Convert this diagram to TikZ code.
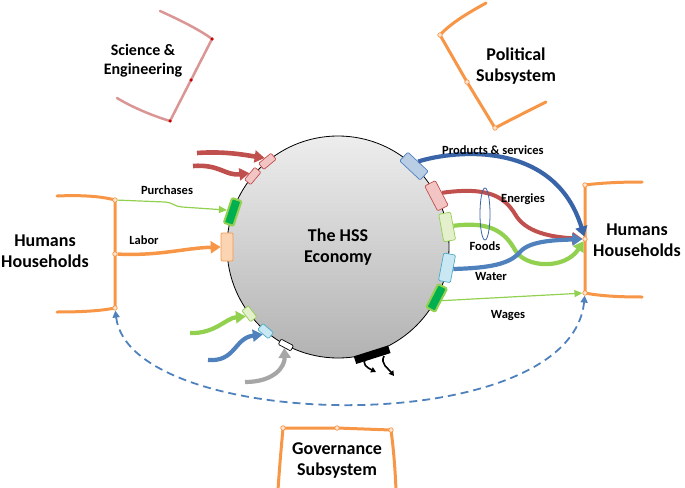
\documentclass[tikz,border=0pt]{standalone}
\usepackage{fontspec}
\setmainfont{Carlito}
\usetikzlibrary{arrows.meta,calc,shapes.geometric}
\definecolor{cred}{HTML}{C0504D}
\definecolor{credfill}{HTML}{F2C4C3}
\definecolor{cblue}{HTML}{4F81BD}
\definecolor{cdblue}{HTML}{3A64A8}
\definecolor{cbluefill}{HTML}{B9CDE5}
\definecolor{cgreen}{HTML}{92D050}
\definecolor{cgreenfill}{HTML}{E4EFCB}
\definecolor{cdgreen}{HTML}{00B050}
\definecolor{ccyan}{HTML}{4BACC6}
\definecolor{ccyanfill}{HTML}{C9E8F3}
\definecolor{corange}{HTML}{F79646}
\definecolor{corangefill}{HTML}{FBD4B4}
\definecolor{cpink}{HTML}{D99694}
\definecolor{cgray}{HTML}{A6A6A6}
\begin{document}
\begin{tikzpicture}[x=1pt,y=-1pt,
  lbl/.style={font=\bfseries\fontsize{12.5}{14}\selectfont, inner sep=1pt},
  big/.style={font=\bfseries\fontsize{18}{21}\selectfont, align=center},
  mid/.style={font=\bfseries\fontsize{16}{19}\selectfont, align=center},
  obar/.style={draw=corange, line width=3pt, line join=round, line cap=round},
  joint/.style={circle, draw=corange, fill=corange!25, line width=0.7pt, minimum size=4.5pt, inner sep=0pt},
  sdot/.style={circle, fill=red!80!black, minimum size=3.5pt, inner sep=0pt},
  pbox/.style={rectangle, rounded corners=1.2pt, inner sep=0pt, line width=0.7pt, minimum width=12pt, minimum height=28pt},
  sbox/.style={rectangle, rounded corners=1pt, inner sep=0pt, line width=0.7pt, minimum width=8pt, minimum height=16pt},
  flow/.style={line width=4.2pt, -{Triangle[length=10pt,width=12pt]}},
  slim/.style={line width=1.2pt, -{Triangle[length=8pt,width=7pt]}},
]
\path[use as bounding box] (0,0) rectangle (685,487);

% economy circle
\node[circle, draw=black, line width=0.8pt, minimum size=222pt, top color=black!7, bottom color=black!30, big] (eco) at (338,247) {The HSS\\Economy};

% science & engineering
\draw[draw=cpink, line width=2.5pt, line join=round, line cap=round] (160,11) .. controls (180,20) and (200,30) .. (212,39) -- (191,80) -- (170,121) .. controls (150,115) and (130,106) .. (117,98);
\node[sdot] (s1) at (212,39) {};
\node[sdot] (s2) at (191,80) {};
\node[sdot] (s3) at (170,121) {};
\node[mid] (sci) at (143,61) {Science \&\\Engineering};

% political
\draw[obar] (486,3) .. controls (470,12) and (452,22) .. (440,35) -- (467,82) -- (495,128) .. controls (510,120) and (530,110) .. (546,102);
\node[joint] (p1) at (440,35) {};
\node[joint] (p2) at (467,82) {};
\node[joint] (p3) at (495,128) {};
\node[big] (pol) at (516,66) {Political\\Subsystem};

% governance
\draw[obar] (278,490) .. controls (280,460) and (282,440) .. (283,428) -- (337,428) -- (391,430) .. controls (393,445) and (395,465) .. (396,490);
\node[joint] (g1) at (283,428) {};
\node[joint] (g2) at (337,428) {};
\node[joint] (g3) at (391,430) {};
\node[big] (gov) at (337,461) {Governance\\Subsystem};

% households brackets
\draw[obar] (57,196) .. controls (80,195) and (100,196) .. (115,200) -- (115,308) .. controls (100,311) and (80,312) .. (57,312);
\draw[obar] (642,182) .. controls (620,182) and (600,183) .. (585,185) -- (585,293) .. controls (600,296) and (620,297) .. (642,297);
\node[big] (hhL) at (45,251) {Humans\\Households};
\node[big] (hhR) at (637,240) {Humans\\Households};

% boxes on the circle
\node[sbox, fill=credfill, draw=cred, rotate=129.5] (rT1) at ($(eco.center)+(129.5:111pt)$) {};
\node[sbox, fill=credfill, draw=cred, rotate=140.2] (rT2) at ($(eco.center)+(140.2:111pt)$) {};
\node[pbox, fill=cdgreen, draw=cgreen, line width=2pt, minimum width=10pt, minimum height=26pt, rotate=161.6] (gL) at ($(eco.center)+(161.6:111pt)$) {};
\node[pbox, fill=corangefill, draw=corange, rotate=180] (oL) at ($(eco.center)+(180:111pt)$) {};
\node[pbox, fill=cbluefill, draw=cblue, rotate=46.8] (bR) at ($(eco.center)+(46.8:111pt)$) {};
\node[pbox, fill=credfill, draw=cred, rotate=27.5] (rR) at ($(eco.center)+(27.5:111pt)$) {};
\node[pbox, fill=cgreenfill, draw=cgreen, rotate=10.4] (fR) at ($(eco.center)+(10.4:111pt)$) {};
\node[pbox, fill=ccyanfill, draw=ccyan, rotate=-10.8] (wR) at ($(eco.center)+(-10.8:111pt)$) {};
\node[pbox, fill=cdgreen, draw=cgreen, line width=2pt, minimum width=10pt, minimum height=26pt, rotate=-27.3] (dgR) at ($(eco.center)+(-27.3:111pt)$) {};
\node[sbox, fill=cgreenfill, draw=cgreen, minimum height=14pt, rotate=217] (lgB) at ($(eco.center)+(217:111pt)$) {};
\node[sbox, fill=ccyanfill, draw=ccyan, minimum height=14pt, rotate=229.3] (wB) at ($(eco.center)+(229.3:111pt)$) {};
\node[sbox, fill=white, draw=black, minimum width=6pt, minimum height=14pt, rotate=242] (wtB) at ($(eco.center)+(242:111pt)$) {};
\node[rectangle, fill=black, rotate=-72.4, minimum width=8pt, minimum height=36pt, inner sep=0pt] (blk) at ($(eco.center)+(-72.4:113pt)$) {};

% outputs of the black device
\draw[line width=1.6pt, -{Triangle[length=5pt,width=5.5pt]}] (367,358) .. controls (360,364) and (368,368) .. (376,372);
\draw[line width=1.6pt, -{Triangle[length=5pt,width=5.5pt]}] (384,356) .. controls (380,364) and (388,368) .. (394,376);

% top-left red inputs
\coordinate (ra1) at (197,153);
\coordinate (ra2) at (193,166);
\draw[flow, cred, line width=4.6pt] (ra1) .. controls (225,151) and (245,155) .. (rT1.east);
\draw[flow, cred, line width=4.6pt] (ra2) .. controls (220,164) and (225,176) .. (rT2.east);

% bottom-left inputs
\coordinate (bl1) at (190,333);
\coordinate (bl2) at (208,360);
\coordinate (bl3) at (245,382);
\draw[flow, cgreen] (bl1) .. controls (215,334) and (226,318) .. (lgB.east);
\draw[flow, cblue] (bl2) .. controls (236,362) and (234,338) .. (wB.east);
\draw[flow, cgray] (bl3) .. controls (275,382) and (285,366) .. (wtB.east);

% left side flows
\node[joint] (LT) at (115,200) {};
\node[joint] (LM) at (115,254) {};
\node[joint] (LB) at (115,308) {};
\draw[slim, cgreen] (LT) -- (165,202) .. controls (172,202) and (175,207) .. (182,207) -- (gL.east);
\draw[flow, corange, line width=3.5pt] (LM) .. controls (160,256) and (185,248) .. (oL.east);
\node[lbl] (lpur) at (167,190) {Purchases};
\node[lbl] (llab) at (144,240) {Labor};

% right side flows
\node[joint] (RT) at (585,185) {};
\node[joint] (RM) at (585,239) {};
\node[joint] (RB) at (585,293) {};
\draw[flow, cdblue] (bR.east) .. controls (455,150) and (555,140) .. (RM);
\draw[flow, cred, line width=4pt] (rR.east) .. controls (490,186) and (505,198) .. (515,214) .. controls (525,232) and (550,237) .. (RM);
\draw[flow, cgreen] (fR.east) .. controls (490,221) and (505,232) .. (515,250) .. controls (525,268) and (565,270) .. (RM);
\draw[flow, cblue] (wR.east) .. controls (490,268) and (510,264) .. (520,252) .. controls (530,240) and (560,240) .. (RM);
\draw[slim, cgreen] (dgR.east) -- (RB);
\node[draw=cdblue, line width=0.8pt, ellipse, minimum width=10pt, minimum height=52pt, inner sep=0pt] (ell) at (485,214) {};
\node[lbl, anchor=west] (lps) at (441,150) {Products \& services};
\node[lbl] (len) at (523,199) {Energies};
\node[lbl] (lfo) at (485,246) {Foods};
\node[lbl] (lwa) at (491,276) {Water};
\node[lbl] (lwg) at (508,316) {Wages};

% feedback
\draw[cblue, line width=1.8pt, dash pattern=on 8pt off 5pt, {Triangle[length=7pt,width=7pt]}-{Triangle[length=7pt,width=7pt]}] (LB) .. controls (130,432) and (570,442) .. (RB);
\end{tikzpicture}
\end{document}
